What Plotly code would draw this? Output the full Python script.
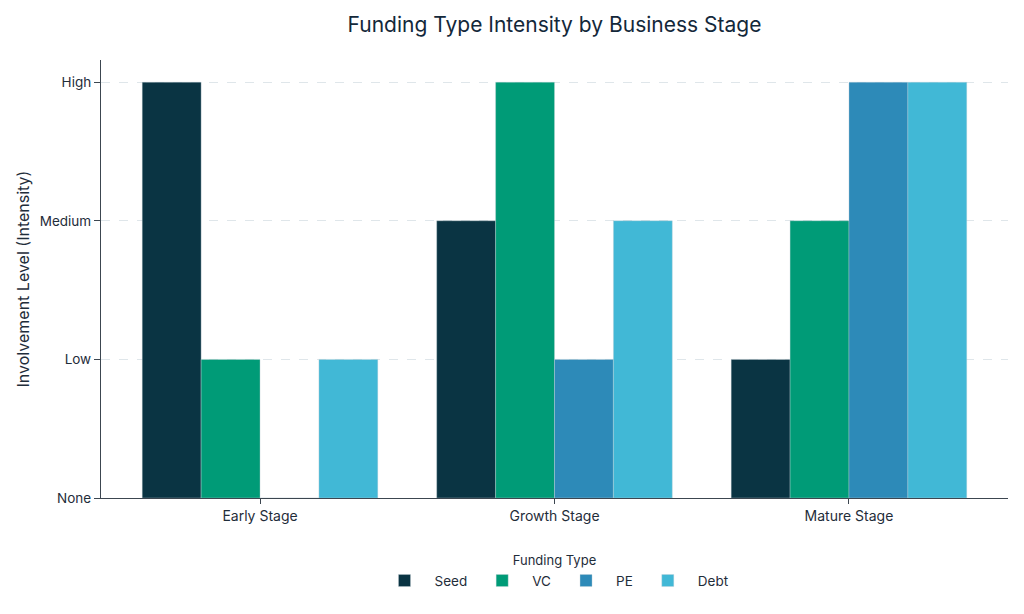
import plotly.graph_objects as go

stages = ["Early Stage", "Growth Stage", "Mature Stage"]
funding_types = ["Seed", "VC", "PE", "Debt"]
seed = [3, 2, 1]
vc = [1, 3, 2]
pe = [0, 1, 3]
debt = [1, 2, 3]
level_labels = ["None", "Low", "Medium", "High"]
level_values = [0, 1, 2, 3]
colors = ["#0a3443", "#009b77", "#2d8ab8", "#41b8d6"]

series = [seed, vc, pe, debt]

fig = go.Figure()
for name, vals, col in zip(funding_types, series, colors):
    fig.add_trace(go.Bar(
        x=stages, y=vals, name=name,
        marker=dict(color=col, line=dict(width=0.6, color="rgba(200,210,215,0.6)")),
    ))

font_family = "Inter, 'Open Sans', sans-serif"
fig.update_layout(
    width=1024, height=614,
    barmode="group", bargap=0.2, bargroupgap=0,
    paper_bgcolor="white", plot_bgcolor="white",
    font=dict(family=font_family, size=13, color="#1f2d3a"),
    title=dict(text="Funding Type Intensity by Business Stage", x=0.5, xref="paper", xanchor="center",
               y=0.96, yanchor="middle",
               font=dict(family=font_family, size=21, color="#13283a", weight=400)),
    margin=dict(l=101, r=16, t=60, b=116),
    xaxis=dict(
        range=[-0.54, 2.54], showgrid=False,
        showline=True, linecolor="#3c4650", linewidth=1.2,
        ticks="outside", ticklen=5, tickcolor="#3c4650",
        tickfont=dict(size=14, color="#1f2d3a"),
    ),
    yaxis=dict(
        range=[0, 3.16], tickvals=level_values, ticktext=level_labels,
        showgrid=True, gridcolor="#dfe6ea", griddash="dash", gridwidth=1,
        showline=True, linecolor="#3c4650", linewidth=1.2,
        ticks="outside", ticklen=6, tickcolor="#3c4650",
        tickfont=dict(size=13.5, color="#1f2d3a"),
        title=dict(text="Involvement Level (Intensity)", font=dict(size=16, color="#1f2d3a"), standoff=6),
        zeroline=False,
    ),
    legend=dict(
        orientation="h", x=0.5, xanchor="center", y=-0.115, yanchor="top",
        title=dict(text="Funding Type", side="top center", font=dict(size=13)),
        font=dict(size=13.5), itemwidth=50, tracegroupgap=0,
    ),
)

fig.write_html("out.html")
